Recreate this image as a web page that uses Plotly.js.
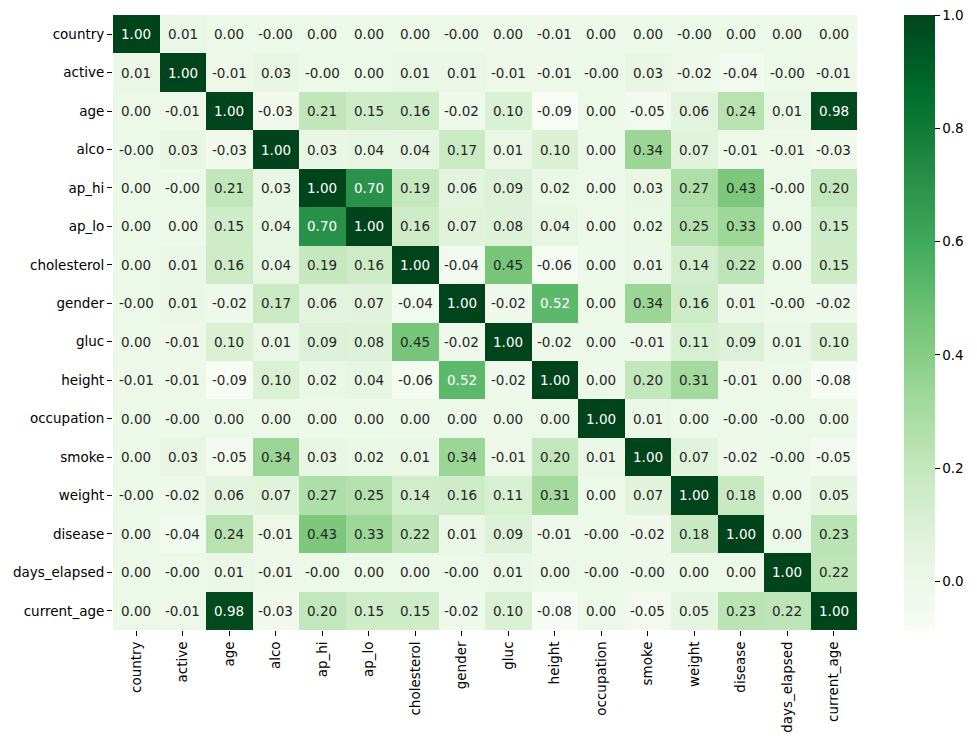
<!DOCTYPE html>
<html>
<head>
<meta charset="utf-8">
<script src="https://cdn.plot.ly/plotly-3.0.1.min.js"></script>
<style>html,body{margin:0;padding:0;background:#fff;}#chart{width:977px;height:745px;}</style>
</head>
<body>
<div id="chart"></div>
<script>
const labels = ["country","active","age","alco","ap_hi","ap_lo","cholesterol","gender","gluc","height","occupation","smoke","weight","disease","days_elapsed","current_age"];
// -0.001 marks cells shown as "-0.00"
const row_country      = [1.00, 0.01, 0.00, -0.001, 0.00, 0.00, 0.00, -0.001, 0.00, -0.01, 0.00, 0.00, -0.001, 0.00, 0.00, 0.00];
const row_active       = [0.01, 1.00, -0.01, 0.03, -0.001, 0.00, 0.01, 0.01, -0.01, -0.01, -0.001, 0.03, -0.02, -0.04, -0.001, -0.01];
const row_age          = [0.00, -0.01, 1.00, -0.03, 0.21, 0.15, 0.16, -0.02, 0.10, -0.09, 0.00, -0.05, 0.06, 0.24, 0.01, 0.98];
const row_alco         = [-0.001, 0.03, -0.03, 1.00, 0.03, 0.04, 0.04, 0.17, 0.01, 0.10, 0.00, 0.34, 0.07, -0.01, -0.01, -0.03];
const row_ap_hi        = [0.00, -0.001, 0.21, 0.03, 1.00, 0.70, 0.19, 0.06, 0.09, 0.02, 0.00, 0.03, 0.27, 0.43, -0.001, 0.20];
const row_ap_lo        = [0.00, 0.00, 0.15, 0.04, 0.70, 1.00, 0.16, 0.07, 0.08, 0.04, 0.00, 0.02, 0.25, 0.33, 0.00, 0.15];
const row_cholesterol  = [0.00, 0.01, 0.16, 0.04, 0.19, 0.16, 1.00, -0.04, 0.45, -0.06, 0.00, 0.01, 0.14, 0.22, 0.00, 0.15];
const row_gender       = [-0.001, 0.01, -0.02, 0.17, 0.06, 0.07, -0.04, 1.00, -0.02, 0.52, 0.00, 0.34, 0.16, 0.01, -0.001, -0.02];
const row_gluc         = [0.00, -0.01, 0.10, 0.01, 0.09, 0.08, 0.45, -0.02, 1.00, -0.02, 0.00, -0.01, 0.11, 0.09, 0.01, 0.10];
const row_height       = [-0.01, -0.01, -0.09, 0.10, 0.02, 0.04, -0.06, 0.52, -0.02, 1.00, 0.00, 0.20, 0.31, -0.01, 0.00, -0.08];
const row_occupation   = [0.00, -0.001, 0.00, 0.00, 0.00, 0.00, 0.00, 0.00, 0.00, 0.00, 1.00, 0.01, 0.00, -0.001, -0.001, 0.00];
const row_smoke        = [0.00, 0.03, -0.05, 0.34, 0.03, 0.02, 0.01, 0.34, -0.01, 0.20, 0.01, 1.00, 0.07, -0.02, -0.001, -0.05];
const row_weight       = [-0.001, -0.02, 0.06, 0.07, 0.27, 0.25, 0.14, 0.16, 0.11, 0.31, 0.00, 0.07, 1.00, 0.18, 0.00, 0.05];
const row_disease      = [0.00, -0.04, 0.24, -0.01, 0.43, 0.33, 0.22, 0.01, 0.09, -0.01, -0.001, -0.02, 0.18, 1.00, 0.00, 0.23];
const row_days_elapsed = [0.00, -0.001, 0.01, -0.01, -0.001, 0.00, 0.00, -0.001, 0.01, 0.00, -0.001, -0.001, 0.00, 0.00, 1.00, 0.22];
const row_current_age  = [0.00, -0.01, 0.98, -0.03, 0.20, 0.15, 0.15, -0.02, 0.10, -0.08, 0.00, -0.05, 0.05, 0.23, 0.22, 1.00];
const colorbarTicks = [0.0, 0.2, 0.4, 0.6, 0.8, 1.0];

const z = [row_country, row_active, row_age, row_alco, row_ap_hi, row_ap_lo, row_cholesterol, row_gender,
  row_gluc, row_height, row_occupation, row_smoke, row_weight, row_disease, row_days_elapsed, row_current_age];

const greens = [
  [0.0, '#f7fcf5'], [0.125, '#e5f5e0'], [0.25, '#c7e9c0'], [0.375, '#a1d99b'],
  [0.5, '#74c476'], [0.625, '#41ab5d'], [0.75, '#238b45'], [0.875, '#006d2c'], [1.0, '#00441b']
];

const font = "DejaVu Sans, sans-serif";
const annotations = [];
for (let i = 0; i < labels.length; i++) {
  for (let j = 0; j < labels.length; j++) {
    const v = z[i][j];
    annotations.push({
      x: labels[j], y: labels[i], xref: 'x', yref: 'y',
      text: v.toFixed(2), showarrow: false,
      font: {family: font, size: 13.5, color: v >= 0.5 ? '#ffffff' : '#262626'}
    });
  }
}

const trace = {
  type: 'heatmap', z: z, x: labels, y: labels,
  colorscale: greens, zmin: -0.086, zmax: 1.0,
  xgap: 0, ygap: 0, hoverinfo: 'skip',
  colorbar: {
    x: 1.063, xanchor: 'left', xpad: 0, y: 0.5, yanchor: 'middle', ypad: 0,
    len: 1, lenmode: 'fraction', thickness: 31, outlinewidth: 0,
    tickvals: colorbarTicks, ticktext: colorbarTicks.map(t => t.toFixed(1)),
    ticks: 'outside', ticklen: 5, tickwidth: 1, tickcolor: '#000',
    tickfont: {family: font, size: 13.5, color: '#000'}
  }
};

const layout = {
  width: 977, height: 745,
  margin: {l: 113, r: 120, t: 15, b: 115},
  paper_bgcolor: '#fff', plot_bgcolor: '#fff',
  xaxis: {type: 'category', tickangle: -90, ticks: 'outside', ticklen: 5, tickwidth: 1, tickcolor: '#000',
          showgrid: false, zeroline: false, showline: false,
          tickfont: {family: font, size: 13.5, color: '#000'}},
  yaxis: {type: 'category', autorange: 'reversed', ticks: 'outside', ticklen: 5, tickwidth: 1, tickcolor: '#000',
          showgrid: false, zeroline: false, showline: false,
          tickfont: {family: font, size: 13.5, color: '#000'}},
  annotations: annotations,
  showlegend: false
};

Plotly.newPlot('chart', [trace], layout, {displayModeBar: false, staticPlot: true});
</script>
</body>
</html>
